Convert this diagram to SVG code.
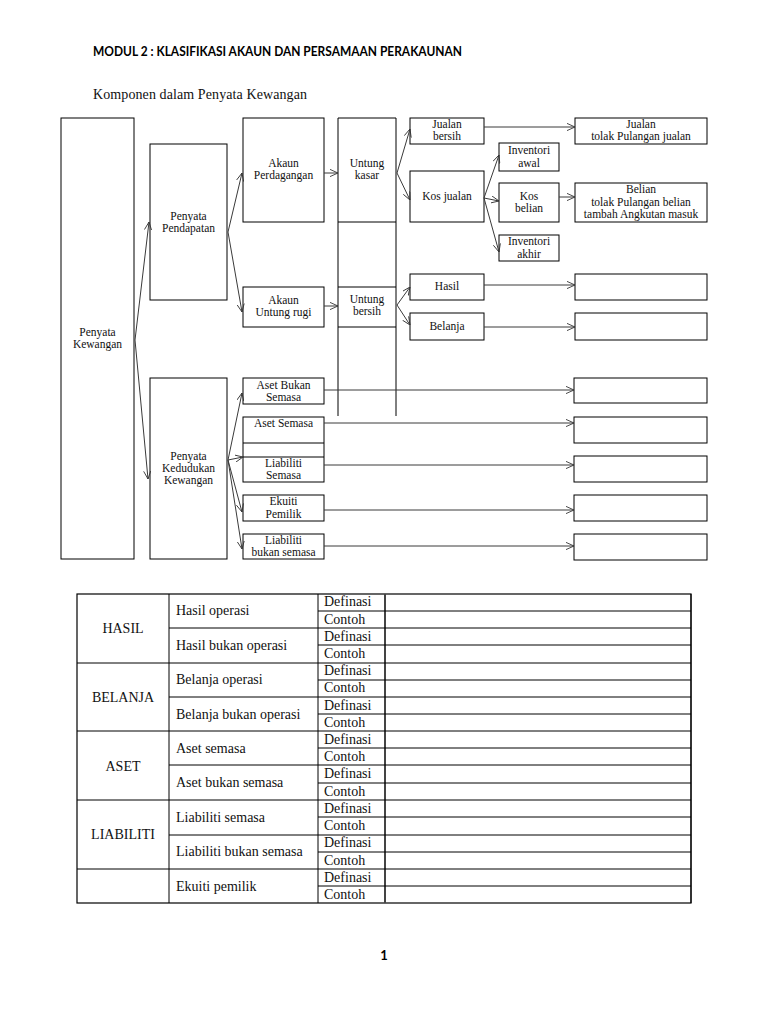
<svg xmlns="http://www.w3.org/2000/svg" width="768" height="1024" viewBox="0 0 768 1024">
<defs>
<marker id="ah" viewBox="0 0 10 10" refX="10" refY="5" markerWidth="8" markerHeight="8" orient="auto" markerUnits="userSpaceOnUse">
<path d="M0,0.5 L10,5 L0,9.5" fill="none" stroke="#333" stroke-width="1.1"/>
</marker>
</defs>
<style>
.b{fill:#fff;stroke:#000;stroke-width:1}
.t{font-family:"Liberation Serif","Times New Roman",serif;font-size:11.5px;fill:#111;text-anchor:middle}
.tt{font-family:"Liberation Serif","Times New Roman",serif;font-size:14px;fill:#111}
.c line,.c path{stroke:#3a3a3a;stroke-width:1;fill:none;marker-end:url(#ah)}
.g{stroke:#000;stroke-width:1;fill:none}
.tl{stroke:#000;stroke-width:1}
</style>
<rect width="768" height="1024" fill="#fff"/>
<text x="93" y="56" font-family="Lato,'Open Sans',sans-serif" font-weight="bold" font-size="13px" textLength="369" lengthAdjust="spacingAndGlyphs" fill="#000">MODUL 2 : KLASIFIKASI AKAUN DAN PERSAMAAN PERAKAUNAN</text>
<text x="93" y="99" class="tt" textLength="214" lengthAdjust="spacing">Komponen dalam Penyata Kewangan</text>

<g id="penyata-kewangan"><rect class="b" x="61" y="118" width="73" height="441"/><text class="t" x="97.5" y="336">Penyata</text><text class="t" x="97.5" y="348">Kewangan</text></g>
<g id="penyata-pendapatan"><rect class="b" x="150" y="144" width="77" height="156"/><text class="t" x="188.5" y="220">Penyata</text><text class="t" x="188.5" y="232">Pendapatan</text></g>
<g id="akaun-perdagangan"><rect class="b" x="243" y="118" width="81" height="104"/><text class="t" x="283.5" y="167">Akaun</text><text class="t" x="283.5" y="179">Perdagangan</text></g>
<g id="akaun-untung-rugi"><rect class="b" x="243" y="287" width="81" height="40"/><text class="t" x="283.5" y="304">Akaun</text><text class="t" x="283.5" y="316">Untung rugi</text></g>
<g id="untung-column"><path class="g" d="M338,416 V118 H396 V416 M338,222 H396 M338,287 H396 M338,327 H396"/></g>
<g id="untung-kasar"><text class="t" x="367" y="167">Untung</text><text class="t" x="367" y="179">kasar</text></g>
<g id="untung-bersih"><text class="t" x="367" y="303">Untung</text><text class="t" x="367" y="315">bersih</text></g>
<g id="penyata-kedudukan-kewangan"><rect class="b" x="150" y="378" width="77" height="181"/><text class="t" x="188.5" y="460">Penyata</text><text class="t" x="188.5" y="472">Kedudukan</text><text class="t" x="188.5" y="484">Kewangan</text></g>
<g id="aset-bukan-semasa"><rect class="b" x="243" y="378" width="81" height="26"/><text class="t" x="283.5" y="389">Aset Bukan</text><text class="t" x="283.5" y="401">Semasa</text></g>
<g id="aset-liabiliti-semasa"><rect class="b" x="243" y="417" width="81" height="65"/><line class="tl" x1="243" y1="443" x2="324" y2="443"/><line class="tl" x1="243" y1="457" x2="324" y2="457"/><text class="t" x="283.5" y="427">Aset Semasa</text><text class="t" x="283.5" y="467">Liabiliti</text><text class="t" x="283.5" y="479">Semasa</text></g>
<g id="ekuiti-pemilik"><rect class="b" x="243" y="495" width="81" height="26"/><text class="t" x="283.5" y="505">Ekuiti</text><text class="t" x="283.5" y="518">Pemilik</text></g>
<g id="liabiliti-bukan-semasa"><rect class="b" x="243" y="534" width="81" height="25"/><text class="t" x="283.5" y="544">Liabiliti</text><text class="t" x="283.5" y="556">bukan semasa</text></g>

<g id="jualan-bersih"><rect class="b" x="410" y="118" width="74" height="26"/><text class="t" x="447" y="128">Jualan</text><text class="t" x="447" y="140">bersih</text></g>
<g id="kos-jualan"><rect class="b" x="410" y="171" width="74" height="51"/><text class="t" x="447" y="200">Kos jualan</text></g>
<g id="hasil"><rect class="b" x="410" y="274" width="74" height="26"/><text class="t" x="447" y="290">Hasil</text></g>
<g id="belanja"><rect class="b" x="410" y="313" width="74" height="27"/><text class="t" x="447" y="330">Belanja</text></g>
<g id="inventori-awal"><rect class="b" x="499" y="143" width="60" height="28"/><text class="t" x="529" y="154">Inventori</text><text class="t" x="529" y="167">awal</text></g>
<g id="kos-belian"><rect class="b" x="499" y="183" width="60" height="39"/><text class="t" x="529" y="200">Kos</text><text class="t" x="529" y="212">belian</text></g>
<g id="inventori-akhir"><rect class="b" x="499" y="235" width="60" height="26"/><text class="t" x="529" y="245">Inventori</text><text class="t" x="529" y="258">akhir</text></g>
<g id="jualan-tolak"><rect class="b" x="575" y="118" width="132" height="26"/><text class="t" x="641" y="128">Jualan</text><text class="t" x="641" y="140">tolak Pulangan jualan</text></g>
<g id="belian-tolak"><rect class="b" x="575" y="183" width="132" height="39"/><text class="t" x="641" y="193">Belian</text><text class="t" x="641" y="206">tolak Pulangan belian</text><text class="t" x="641" y="218">tambah Angkutan masuk</text></g>
<g id="hasil-result"><rect class="b" x="575" y="274" width="132" height="26"/></g>
<g id="belanja-result"><rect class="b" x="575" y="313" width="132" height="27"/></g>
<g id="r1"><rect class="b" x="574" y="378" width="133" height="25"/></g>
<g id="r2"><rect class="b" x="574" y="417" width="133" height="26"/></g>
<g id="r3"><rect class="b" x="574" y="456" width="133" height="26"/></g>
<g id="r4"><rect class="b" x="574" y="495" width="133" height="26"/></g>
<g id="r5"><rect class="b" x="574" y="534" width="133" height="26"/></g>

<g id="connectors" class="c">
<line x1="135" y1="340" x2="149" y2="222"/>
<line x1="135" y1="340" x2="148" y2="479"/>
<line x1="228" y1="232" x2="242" y2="173"/>
<line x1="228" y1="232" x2="242" y2="312"/>
<line x1="324" y1="173" x2="338" y2="173"/>
<line x1="324" y1="306" x2="338" y2="306"/>
<line x1="397" y1="173" x2="410" y2="129"/>
<line x1="397" y1="173" x2="410" y2="200"/>
<line x1="397" y1="305" x2="410" y2="287"/>
<line x1="397" y1="305" x2="410" y2="325"/>
<line x1="484" y1="198" x2="499" y2="155"/>
<line x1="484" y1="198" x2="499" y2="201"/>
<line x1="484" y1="198" x2="499" y2="252"/>
<line x1="484" y1="127" x2="575" y2="127"/>
<line x1="559" y1="197" x2="575" y2="197"/>
<line x1="484" y1="285" x2="575" y2="285"/>
<line x1="484" y1="327" x2="575" y2="327"/>
<line x1="228" y1="460" x2="242" y2="393"/>
<line x1="228" y1="460" x2="243" y2="457"/>
<line x1="228" y1="460" x2="242" y2="512"/>
<line x1="228" y1="460" x2="242" y2="549"/>
<line x1="324" y1="390" x2="574" y2="390"/>
<line x1="324" y1="423" x2="574" y2="423"/>
<line x1="324" y1="465" x2="574" y2="465"/>
<line x1="324" y1="510" x2="574" y2="510"/>
<line x1="324" y1="546" x2="574" y2="546"/>
</g>

<g id="table">
<rect x="77" y="594" width="614" height="309" fill="none" stroke="#000" stroke-width="1.2"/>
<path class="g" d="M169,594 V903 M318,594 V903 M691,594 V903"/>
<path d="M385,594 V903" stroke="#444" stroke-width="2" fill="none"/>
<path class="g" d="M77,663 H691 M77,731 H691 M77,800 H691 M77,869 H691 M169,628 H691 M169,697 H691 M169,765 H691 M169,835 H691 M318,611 H691 M318,645 H691 M318,680 H691 M318,714 H691 M318,748 H691 M318,783 H691 M318,817 H691 M318,852 H691 M318,886 H691"/>
<g class="tt">
<text x="123" y="633" text-anchor="middle">HASIL</text>
<text x="123" y="702" text-anchor="middle">BELANJA</text>
<text x="123" y="771" text-anchor="middle">ASET</text>
<text x="123" y="839" text-anchor="middle">LIABILITI</text>
<text x="176" y="615">Hasil operasi</text>
<text x="176" y="650">Hasil bukan operasi</text>
<text x="176" y="684">Belanja operasi</text>
<text x="176" y="719">Belanja bukan operasi</text>
<text x="176" y="753">Aset semasa</text>
<text x="176" y="787">Aset bukan semasa</text>
<text x="176" y="822">Liabiliti semasa</text>
<text x="176" y="856">Liabiliti bukan semasa</text>
<text x="176" y="891">Ekuiti pemilik</text>
<text x="324" y="606">Definasi</text><text x="324" y="624">Contoh</text>
<text x="324" y="641">Definasi</text><text x="324" y="658">Contoh</text>
<text x="324" y="675">Definasi</text><text x="324" y="692">Contoh</text>
<text x="324" y="710">Definasi</text><text x="324" y="727">Contoh</text>
<text x="324" y="744">Definasi</text><text x="324" y="761">Contoh</text>
<text x="324" y="778">Definasi</text><text x="324" y="796">Contoh</text>
<text x="324" y="813">Definasi</text><text x="324" y="830">Contoh</text>
<text x="324" y="847">Definasi</text><text x="324" y="865">Contoh</text>
<text x="324" y="882">Definasi</text><text x="324" y="899">Contoh</text>
</g>
</g>
<text x="384" y="960" text-anchor="middle" font-family="Lato,'Open Sans',sans-serif" font-weight="bold" font-size="13px" fill="#000">1</text>
</svg>
